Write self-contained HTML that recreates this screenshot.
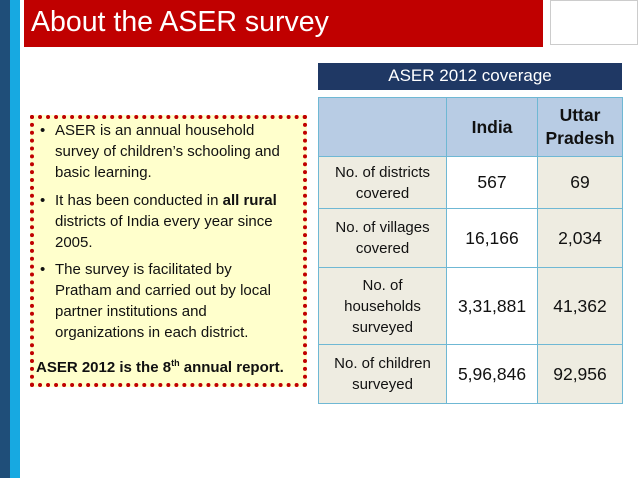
<!DOCTYPE html>
<html><head><meta charset="utf-8"><style>
body{margin:0;width:638px;height:478px;overflow:hidden;background:#fff;font-family:"Liberation Sans",sans-serif;position:relative}
div{position:absolute;box-sizing:border-box}
.t{position:absolute;white-space:nowrap}
table{position:absolute;left:318px;top:97px;width:304px;table-layout:fixed;border-collapse:collapse;font-size:17.5px;color:#111}
td{border:1.5px solid #6fb8d4;text-align:center;padding:0;line-height:21px;overflow:hidden;white-space:nowrap}
.lab{background:#eeece1;font-size:15px}
.ind{background:#fff}
.up{background:#eeece1}
.hd td{background:#b8cce4;font-weight:bold;font-size:17.5px;height:58px}
.ln{position:relative;white-space:nowrap}
</style></head><body>
<div style="left:0;top:0;width:10px;height:478px;background:#1f4e79"></div>
<div style="left:10px;top:0;width:10px;height:478px;background:#17a9e1"></div>
<div style="left:24px;top:0;width:519px;height:47px;background:#c00000"></div>
<span class="t" style="left:31px;top:6px;font-size:28.5px;color:#fff">About the ASER survey</span>
<div style="left:550px;top:0;width:88px;height:45px;border:1px solid #ccc;background:#fff"></div>
<div style="left:318px;top:63px;width:304px;height:27px;background:#1f3864"></div>
<span class="t" style="left:318px;top:66px;width:304px;text-align:center;font-size:17px;color:#fff">ASER 2012 coverage</span>
<div style="left:30px;top:115px;width:277px;height:272px;background:#ffffcc;border:4px dotted #c00000"></div>
<div style="left:38px;top:120px;width:265px;font-size:15px;line-height:21px;color:#111">
<div class="ln" style="padding-left:17px"><span style="position:absolute;left:2px">•</span>ASER is an annual household<br>survey of children’s schooling and<br>basic learning.</div>
<div class="ln" style="padding-left:17px;margin-top:7px"><span style="position:absolute;left:2px">•</span>It has been conducted in <b>all rural</b><br>districts of India every year since<br>2005.</div>
<div class="ln" style="padding-left:17px;margin-top:6px"><span style="position:absolute;left:2px">•</span>The survey is facilitated by<br>Pratham and carried out by local<br>partner institutions and<br>organizations in each district.</div>
<div class="ln" style="margin-top:10px;font-weight:bold;margin-left:-2px">ASER 2012 is the 8<sup style="font-size:9px">th</sup> annual report.</div>
</div>
<table>
<colgroup><col style="width:128px"><col style="width:91px"><col style="width:85px"></colgroup>
<tr class="hd"><td class="lab" style="background:#b8cce4"></td><td class="ind" style="background:#b8cce4">India</td><td class="up" style="background:#b8cce4;line-height:23px">Uttar<br>Pradesh</td></tr>
<tr style="height:52px"><td class="lab">No. of districts<br>covered</td><td class="ind">567</td><td class="up">69</td></tr>
<tr style="height:59px"><td class="lab">No. of villages<br>covered</td><td class="ind">16,166</td><td class="up">2,034</td></tr>
<tr style="height:77px"><td class="lab">No. of<br>households<br>surveyed</td><td class="ind">3,31,881</td><td class="up">41,362</td></tr>
<tr style="height:59px"><td class="lab">No. of children<br>surveyed</td><td class="ind">5,96,846</td><td class="up">92,956</td></tr>
</table>
</body></html>
